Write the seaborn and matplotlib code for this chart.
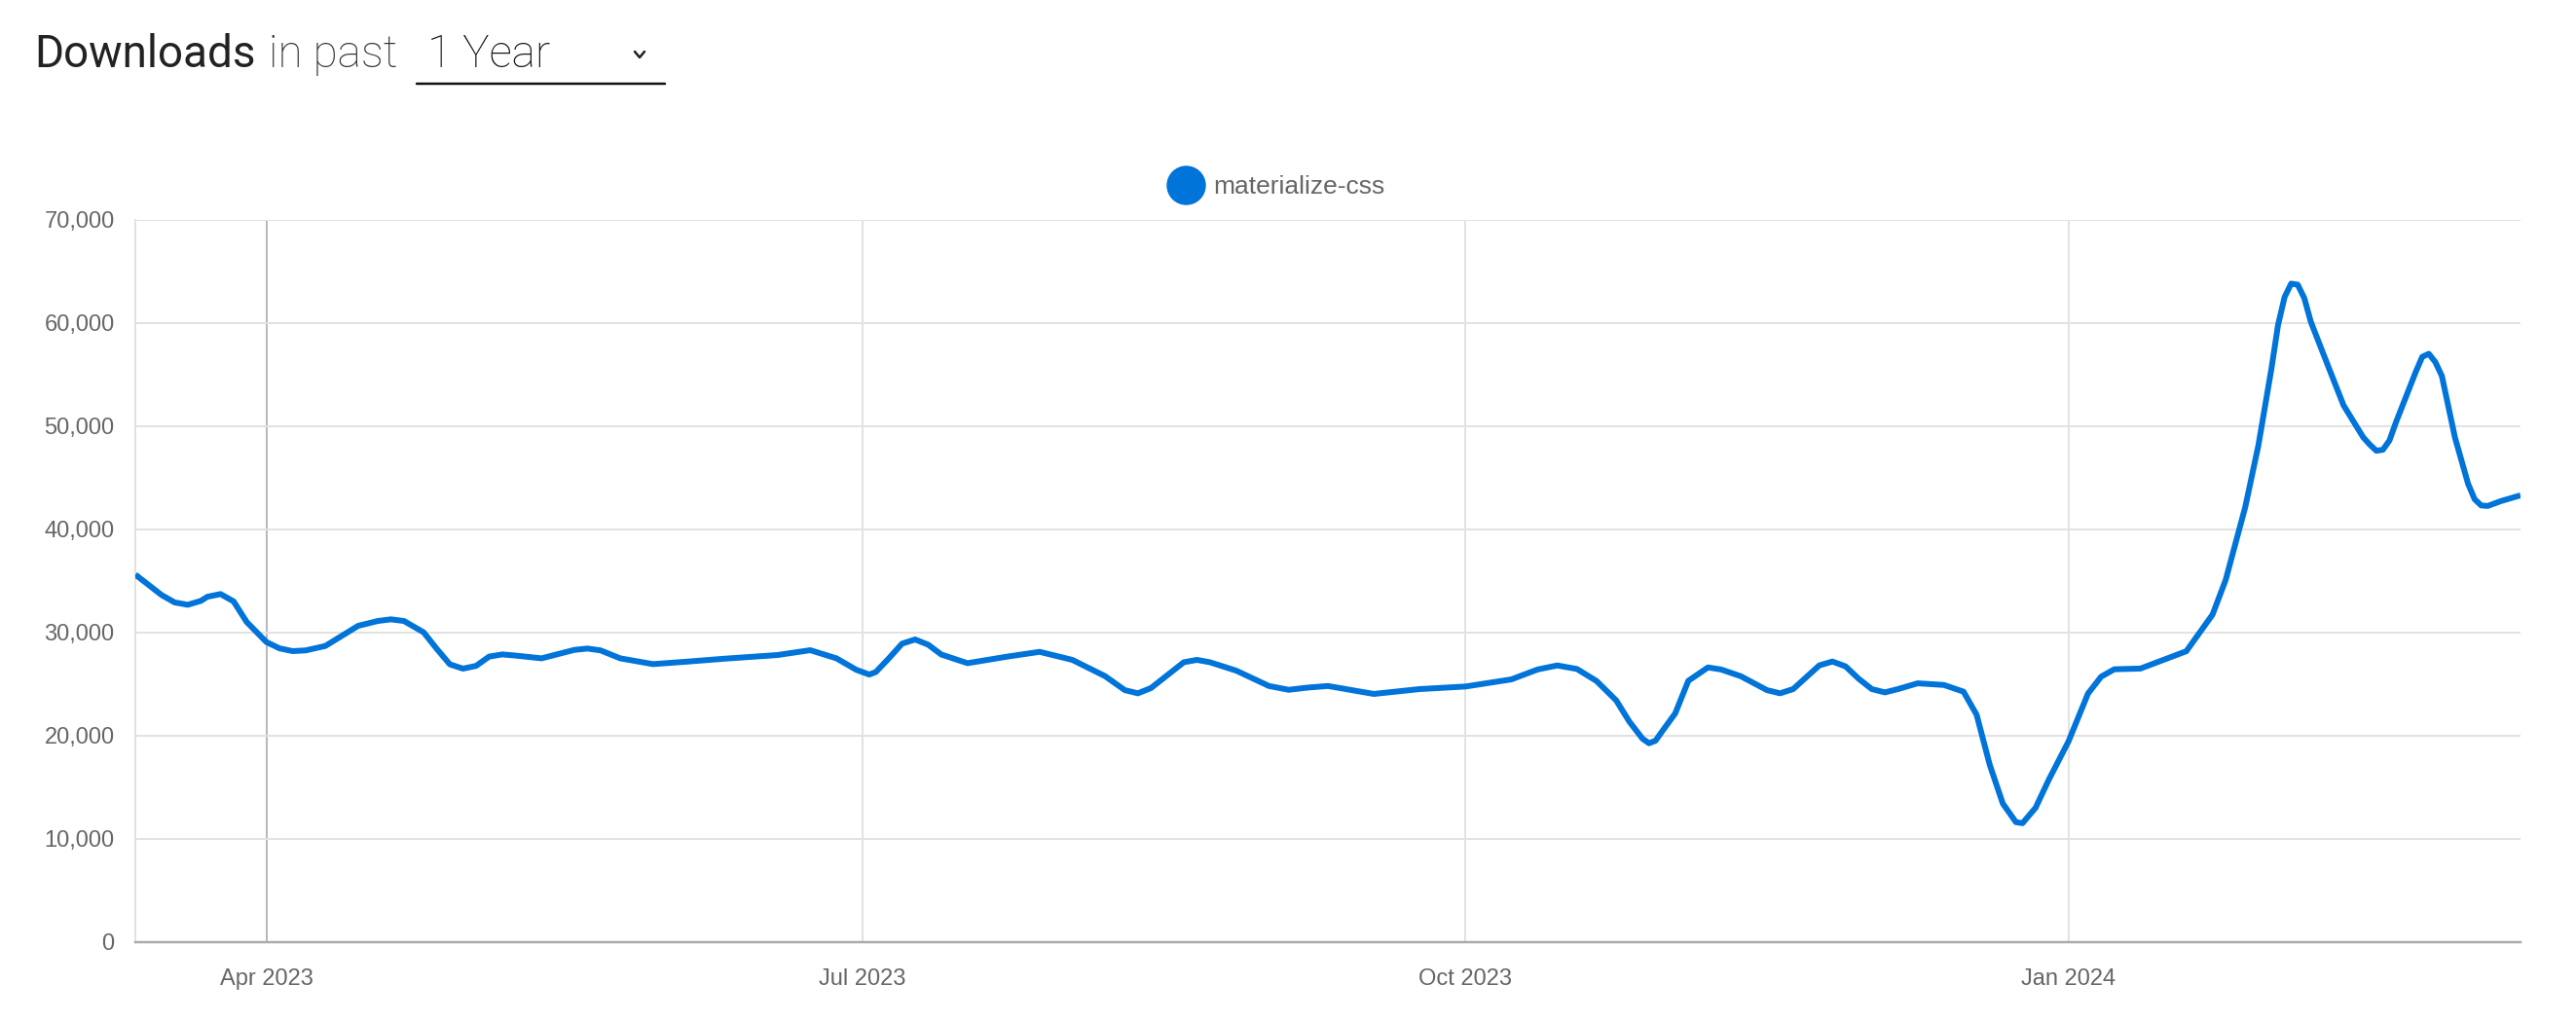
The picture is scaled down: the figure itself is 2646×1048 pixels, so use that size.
import matplotlib
matplotlib.use("Agg")
import matplotlib.dates as mdates
import matplotlib.pyplot as plt
import pandas as pd
import seaborn as sns
from matplotlib.lines import Line2D
from matplotlib.ticker import FuncFormatter, MultipleLocator

# npm downloads for materialize-css (one row per month)
dates = [
  "2023-03-12", "2023-03-16", "2023-03-18", "2023-03-20", "2023-03-22",
  "2023-03-23", "2023-03-25", "2023-03-27", "2023-03-29",
  "2023-04-01", "2023-04-03", "2023-04-05", "2023-04-07", "2023-04-10",
  "2023-04-15", "2023-04-18", "2023-04-20", "2023-04-22", "2023-04-25",
  "2023-04-27", "2023-04-29",
  "2023-05-01", "2023-05-03", "2023-05-05", "2023-05-07", "2023-05-09",
  "2023-05-13", "2023-05-18", "2023-05-20", "2023-05-22", "2023-05-25",
  "2023-05-30",
  "2023-06-04", "2023-06-10", "2023-06-18", "2023-06-23", "2023-06-27",
  "2023-06-30",
  "2023-07-02", "2023-07-03", "2023-07-05", "2023-07-07", "2023-07-09",
  "2023-07-11", "2023-07-13", "2023-07-17", "2023-07-23", "2023-07-28",
  "2023-08-02", "2023-08-07", "2023-08-10", "2023-08-12", "2023-08-14",
  "2023-08-16", "2023-08-19", "2023-08-21", "2023-08-23", "2023-08-27",
  "2023-09-01", "2023-09-04", "2023-09-07", "2023-09-10", "2023-09-17",
  "2023-09-24",
  "2023-10-01", "2023-10-08", "2023-10-12", "2023-10-15", "2023-10-18",
  "2023-10-21", "2023-10-24", "2023-10-26", "2023-10-28", "2023-10-29",
  "2023-10-30", "2023-10-31",
  "2023-11-02", "2023-11-04", "2023-11-07", "2023-11-09", "2023-11-12",
  "2023-11-16", "2023-11-18", "2023-11-20", "2023-11-24", "2023-11-26",
  "2023-11-28", "2023-11-30",
  "2023-12-02", "2023-12-04", "2023-12-06", "2023-12-09", "2023-12-13",
  "2023-12-16", "2023-12-18", "2023-12-20", "2023-12-22", "2023-12-24",
  "2023-12-25", "2023-12-27", "2023-12-29",
  "2024-01-01", "2024-01-04", "2024-01-06", "2024-01-08", "2024-01-12",
  "2024-01-19", "2024-01-23", "2024-01-25", "2024-01-28", "2024-01-30",
  "2024-02-01", "2024-02-02", "2024-02-03", "2024-02-04", "2024-02-05",
  "2024-02-06", "2024-02-07", "2024-02-10", "2024-02-12", "2024-02-15",
  "2024-02-16", "2024-02-17", "2024-02-18", "2024-02-19", "2024-02-20",
  "2024-02-23", "2024-02-24", "2024-02-25", "2024-02-26", "2024-02-27",
  "2024-02-29",
  "2024-03-02", "2024-03-03", "2024-03-04", "2024-03-05", "2024-03-07",
  "2024-03-10",
]
downloads = [
  35600, 33620, 32900, 32670, 33050,
  33450, 33710, 33000, 31000,
  29060, 28450, 28180, 28250, 28680,
  30630, 31100, 31260, 31100, 30000,
  28400, 26900,
  26480, 26750, 27650, 27860, 27750,
  27480, 28300, 28430, 28250, 27480,
  26920,
  27150, 27450, 27800, 28270, 27480,
  26380,
  25910, 26150, 27480, 28900, 29310,
  28800, 27850, 27010, 27640, 28110,
  27330, 25750, 24400, 24090, 24600,
  25600, 27100, 27330, 27100, 26290,
  24800, 24430, 24650, 24800, 24030,
  24500,
  24750, 25440, 26400, 26790, 26450,
  25280, 23400, 21350, 19700, 19250,
  19500, 20400,
  22140, 25300, 26600, 26400, 25750,
  24400, 24090, 24500, 26800, 27170,
  26700, 25500,
  24500, 24180, 24500, 25060, 24900,
  24250, 22010, 17160, 13400, 11600,
  11500, 13000, 15700,
  19400, 24070, 25700, 26420, 26490,
  28170, 31720, 35070, 42160, 48130,
  55600, 59800, 62500, 63800, 63700,
  62400, 60100, 55220, 52000, 48900,
  48200, 47600, 47700, 48600, 50370,
  55220, 56700, 57000, 56200, 54850,
  48880,
  44400, 42900, 42300, 42250, 42720,
  43280,
]
package_name = "materialize-css"
line_color = "#0074d9"

W, H = 2646, 1048
PT = 0.72  # points per pixel at dpi 100

df = pd.DataFrame({"date": pd.to_datetime(dates), "downloads": downloads})

sns.set_theme(style="white")
plt.rcParams["font.family"] = ["Liberation Sans", "DejaVu Sans"]

fig = plt.figure(figsize=(W / 100, H / 100), dpi=100)
left, right, top, bottom = 139, 2589, 225.7, 967.7
ax = fig.add_axes([left / W, 1 - bottom / H, (right - left) / W, (bottom - top) / H])

sns.lineplot(
  data=df, x="date", y="downloads", ax=ax, color=line_color,
  linewidth=6 * PT, solid_capstyle="butt", solid_joinstyle="round",
  legend=False, zorder=5,
)
ax.set_xlabel("")
ax.set_ylabel("")
ax.set_xlim(df["date"].iloc[0], df["date"].iloc[-1])
ax.set_ylim(0, 70000)

ax.yaxis.set_major_locator(MultipleLocator(10000))
ax.yaxis.set_major_formatter(FuncFormatter(lambda v, _: f"{int(v):,}"))
ax.xaxis.set_major_locator(mdates.MonthLocator(bymonth=[1, 4, 7, 10]))
ax.xaxis.set_major_formatter(mdates.DateFormatter("%b %Y"))

grid_c = "#e2e2e2"
ax.grid(True, color=grid_c, linewidth=2 * PT)
ax.tick_params(axis="both", length=20 * PT, width=2 * PT, color=grid_c,
               labelcolor="#666666", labelsize=17)
ax.tick_params(axis="y", pad=1)
ax.tick_params(axis="x", pad=5)

for side in ["top", "right"]:
  ax.spines[side].set_visible(False)
ax.spines["left"].set_color(grid_c)
ax.spines["left"].set_linewidth(2 * PT)
ax.spines["bottom"].set_color("#ababab")
ax.spines["bottom"].set_linewidth(2.5 * PT)
ax.spines["bottom"].set_zorder(6)

# the Apr 2023 vertical line is drawn darker in the original
fig.canvas.draw()
for tick, gl in zip(ax.xaxis.get_major_ticks(), ax.get_xgridlines()):
  if tick.label1.get_text().startswith("Apr"):
    gl.set_color("#b8b8b8")
    tick.tick1line.set_color("#b8b8b8")

# legend above the plot
handle = Line2D([], [], marker="o", linestyle="", color=line_color,
                markersize=39 * PT)
fig.legend(
  handles=[handle], labels=[package_name], loc="center",
  bbox_to_anchor=(1310.5 / W, 1 - 192 / H), frameon=False, fontsize=19,
  labelcolor="#666666", handlelength=1.5, handletextpad=0.34,
  borderpad=0, borderaxespad=0,
)

# header "Downloads in past [1 Year v]"
base_y = 1 - 69 / H
head_font = ["Roboto", "DejaVu Sans"]
fig.text(35 / W, base_y, "Downloads", fontsize=33, color="#222222",
         family=head_font, weight="normal", va="baseline")
fig.text(276 / W, base_y, "in past", fontsize=33, color="#333333",
         family=head_font, weight="light", va="baseline")
fig.text(439 / W, base_y, "1 Year", fontsize=33, color="#111111",
         family=head_font, weight="light", va="baseline")
fig.add_artist(Line2D([428 / W, 683 / W], [1 - 86 / H, 1 - 86 / H],
                      color="#111111", linewidth=2.5 * PT))
fig.add_artist(Line2D([652 / W, 657 / W, 662 / W],
                      [1 - 53 / H, 1 - 59 / H, 1 - 53 / H],
                      color="#222222", linewidth=2.5 * PT))

fig.savefig("out.png", dpi=100, facecolor="white")
